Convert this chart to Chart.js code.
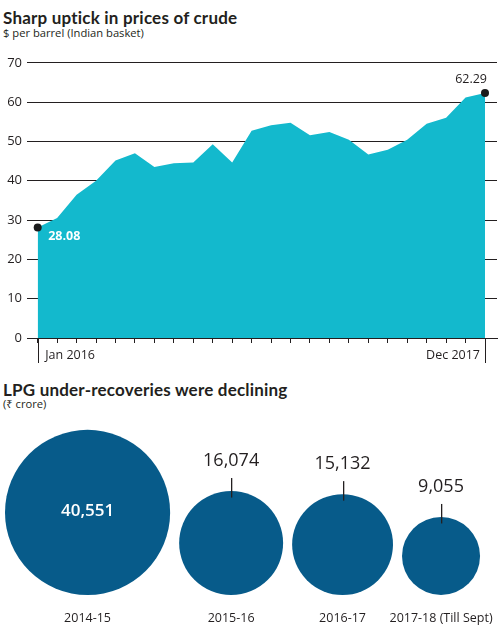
<!DOCTYPE html>
<html><head><meta charset="utf-8">
<script src="https://cdn.jsdelivr.net/npm/chart.js@4/dist/chart.umd.min.js"></script>
<style>
html,body{margin:0;padding:0;background:#fff;}
body{width:504px;height:631px;overflow:hidden;position:relative;font-family:'Open Sans','Noto Sans','DejaVu Sans',sans-serif;color:#231f20;}
.title{position:absolute;left:3px;font-family:Lato,sans-serif;font-weight:700;font-size:17px;letter-spacing:0.2px;white-space:nowrap;line-height:normal;}
.sub{position:absolute;left:3px;font-size:11.2px;white-space:nowrap;line-height:normal;}
#w1{position:absolute;left:0;top:50px;width:504px;height:320px;}
#w2{position:absolute;left:0;top:420px;width:504px;height:211px;}
</style></head>
<body>
<div class="title" style="top:6.5px">Sharp uptick in prices of crude</div>
<div class="sub" style="top:24.7px">$ per barrel (Indian basket)</div>
<div class="title" style="top:379px">LPG under-recoveries were declining</div>
<div class="sub" style="top:395.7px">(₹ crore)</div>
<div id="w1"><canvas id="c1"></canvas></div>
<div id="w2"><canvas id="c2"></canvas></div>
<script>
// ---- data: crude price (Indian basket), $ per barrel ----
const months = ['Jan 2016','Feb 2016','Mar 2016','Apr 2016','May 2016','Jun 2016','Jul 2016','Aug 2016','Sep 2016','Oct 2016','Nov 2016','Dec 2016',
                'Jan 2017','Feb 2017','Mar 2017','Apr 2017','May 2017','Jun 2017','Jul 2017','Aug 2017','Sep 2017','Oct 2017','Nov 2017','Dec 2017'];
const prices = [28.08, 30.53, 36.42, 39.97, 45.15, 47.00, 43.52, 44.45, 44.62, 49.27, 44.61, 52.74,
                54.11, 54.73, 51.58, 52.42, 50.45, 46.66, 47.86, 50.43, 54.52, 56.04, 61.15, 62.29];
const yTicks = [0, 10, 20, 30, 40, 50, 60, 70];
const xTickLabels = ['Jan 2016', 'Dec 2017'];

// ---- data: LPG under-recoveries, ₹ crore ----
const fiscalYears = ['2014-15', '2015-16', '2016-17', '2017-18 (Till Sept)'];
const underRecoveries = [40551, 16074, 15132, 9055];
const underRecoveryLabels = ['40,551', '16,074', '15,132', '9,055'];

const INK = '#231f20';
const FONT = "'Open Sans','Noto Sans',sans-serif";

// ---------- Chart 1: area ----------
const crudeDecor = {
  id: 'crudeDecor',
  afterDatasetsDraw(chart) {
    const {ctx, chartArea: a, scales: {x, y}} = chart;
    ctx.save();
    ctx.fillStyle = INK;
    ctx.fillRect(a.left, Math.round(y.getPixelForValue(0)), a.right - a.left, 1);
    const first = 0, last = months.length - 1;
    [first, last].forEach(i => {
      const px = Math.round(x.getPixelForValue(i));
      ctx.fillRect(px, Math.round(y.getPixelForValue(0)), 1, 25);
    });
    ctx.font = "12.5px " + FONT;
    ctx.fillStyle = INK;
    ctx.textBaseline = 'alphabetic';
    const by = y.getPixelForValue(0) + 21;
    ctx.textAlign = 'left';
    ctx.fillText(xTickLabels[0], x.getPixelForValue(first) + 7.5, by);
    ctx.textAlign = 'right';
    ctx.fillText(xTickLabels[1], x.getPixelForValue(last) - 5, by);
    const meta = chart.getDatasetMeta(0);
    const p0 = meta.data[first], pN = meta.data[last];
    ctx.font = "bold 12.5px " + FONT;
    ctx.fillStyle = '#ffffff';
    ctx.textAlign = 'left';
    ctx.fillText(prices[first].toFixed(2), p0.x + 10.5, p0.y + 12);
    ctx.font = "12.5px " + FONT;
    ctx.fillStyle = INK;
    ctx.textAlign = 'right';
    ctx.fillText(prices[last].toFixed(2), pN.x + 2, pN.y - 10);
    ctx.restore();
  }
};

new Chart(document.getElementById('c1'), {
  type: 'line',
  data: {
    datasets: [{
      data: prices.map((v, i) => ({x: i, y: v})),
      fill: 'origin',
      backgroundColor: '#13B9CD',
      borderColor: 'rgba(0,0,0,0)',
      borderWidth: 0,
      tension: 0,
      pointRadius: c => (c.dataIndex === 0 || c.dataIndex === prices.length - 1) ? 4 : 0,
      pointBackgroundColor: '#1b1b1b',
      pointBorderWidth: 0,
      clip: false
    }]
  },
  options: {
    responsive: true, maintainAspectRatio: false, animation: false, devicePixelRatio: 1,
    events: [],
    layout: {autoPadding: false, padding: {top: 9, right: 7, left: 0, bottom: 0}},
    plugins: {legend: {display: false}, tooltip: {enabled: false}},
    scales: {
      x: {
        type: 'linear', min: -0.55, max: 23.617,
        afterBuildTicks: s => { s.ticks = months.map((m, i) => ({value: i})); },
        afterFit: s => { s.height = 32; },
        ticks: {display: false},
        grid: {drawOnChartArea: false, drawTicks: true, tickLength: 5, color: INK, tickColor: INK, tickWidth: 1},
        border: {display: true, color: INK, width: 1}
      },
      y: {
        type: 'linear', min: yTicks[0], max: yTicks[yTicks.length - 1],
        afterBuildTicks: s => { s.ticks = yTicks.map(v => ({value: v})); },
        afterFit: s => { s.width = 27; },
        ticks: {color: INK, padding: 5, font: {family: FONT, size: 13}},
        grid: {color: INK, lineWidth: 1, drawTicks: false},
        border: {display: false}
      }
    }
  },
  plugins: [crudeDecor]
});

// ---------- Chart 2: bubbles (area proportional to value) ----------
const PX_PER_UNIT = 0.41;      // pixels per sqrt(₹ crore)
const AREA_W = 494, AREA_H = 175;
const GAP = 22;                // spacing between bubbles, in sqrt units
const roots = underRecoveries.map(v => Math.sqrt(v));
const centers = [];
roots.forEach((s, i) => {
  centers.push(i === 0 ? s : centers[i - 1] + roots[i - 1] + GAP + s);
});

const bubbleDecor = {
  id: 'bubbleDecor',
  afterDatasetsDraw(chart) {
    const {ctx} = chart;
    const meta = chart.getDatasetMeta(0);
    ctx.save();
    meta.data.forEach((el, i) => {
      const r = el.options.radius;
      const top = el.y - r;
      ctx.textAlign = 'center';
      ctx.textBaseline = 'alphabetic';
      if (i === 0) {
        ctx.font = "600 17px " + FONT;
        ctx.fillStyle = '#ffffff';
        ctx.fillText(underRecoveryLabels[i], el.x, el.y + 4);
      } else {
        ctx.fillStyle = INK;
        ctx.fillRect(Math.round(el.x), top - 13, 1.3, 19.5);
        ctx.font = "18px " + FONT;
        ctx.fillText(underRecoveryLabels[i], el.x, top - 25);
      }
      ctx.font = "12.5px " + FONT;
      ctx.fillStyle = INK;
      ctx.fillText(fiscalYears[i], el.x, chart.chartArea.bottom + 26.7);
    });
    ctx.restore();
  }
};

new Chart(document.getElementById('c2'), {
  type: 'bubble',
  data: {
    labels: fiscalYears,
    datasets: [{
      data: underRecoveries.map((v, i) => ({x: centers[i], y: roots[i], r: roots[i] * PX_PER_UNIT})),
      backgroundColor: '#075B8A',
      hoverBackgroundColor: '#075B8A',
      borderWidth: 0,
      hoverRadius: 0,
      clip: false
    }]
  },
  options: {
    responsive: true, maintainAspectRatio: false, animation: false, devicePixelRatio: 1,
    events: [],
    layout: {autoPadding: false, padding: {top: 0, right: 5, left: 5, bottom: 36}},
    plugins: {legend: {display: false}, tooltip: {enabled: false}},
    scales: {
      x: {type: 'linear', display: false, min: 0, max: AREA_W / PX_PER_UNIT},
      y: {type: 'linear', display: false, min: 0, max: AREA_H / PX_PER_UNIT}
    }
  },
  plugins: [bubbleDecor]
});
</script>
</body></html>
